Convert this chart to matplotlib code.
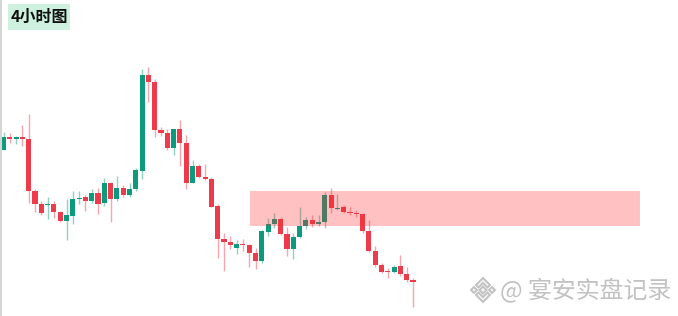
import matplotlib
matplotlib.use("Agg")
import matplotlib.pyplot as plt
from matplotlib.patches import Rectangle, Polygon, FancyBboxPatch
import numpy as np

plt.rcParams['font.family'] = ['Noto Sans CJK SC', 'DejaVu Sans']

# 4h candles (price units)
opens = [170.3, 183.3, 181.0, 183.3, 180.7, 129.3, 116.0, 115.5, 116.0, 108.0,
         99.3, 104.3, 120.7, 123.0, 119.3, 127.3, 116.7, 136.7, 120.7, 132.3,
         125.0, 130.7, 149.3, 245.3, 238.3, 190.0, 187.3, 172.3, 190.7, 176.7,
         137.3, 154.3, 143.0, 141.3, 114.0, 81.3, 78.0, 72.3, 76.3, 75.0,
         66.7, 59.0, 88.3, 96.0, 101.3, 85.7, 71.0, 83.0, 94.3, 100.3,
         95.7, 98.3, 124.7, 111.3, 113.0, 108.3, 107.3, 105.7, 89.0, 69.3,
         55.0, 48.3, 48.0, 54.0, 46.0, 39.7]
closes = [183.3, 180.7, 183.3, 180.7, 129.3, 115.7, 106.7, 116.2, 107.7, 99.3,
          104.7, 121.0, 122.0, 119.3, 127.3, 116.0, 136.7, 120.7, 132.3, 125.0,
          130.7, 150.0, 245.3, 238.3, 190.0, 187.3, 172.3, 190.7, 176.7, 137.3,
          154.3, 143.0, 141.0, 113.3, 81.3, 78.0, 75.5, 76.3, 75.0, 66.7,
          59.0, 89.0, 96.0, 101.3, 85.7, 71.0, 83.0, 94.3, 100.3, 95.7,
          98.3, 124.7, 111.7, 112.3, 107.7, 107.3, 105.7, 88.7, 69.3, 55.0,
          48.3, 47.7, 53.3, 46.0, 39.7, 38.0]
highs = [188.0, 186.7, 184.0, 194.7, 206.0, 130.7, 118.7, 122.7, 118.7, 109.0,
         121.3, 129.3, 129.3, 125.0, 131.0, 132.3, 141.7, 138.3, 144.0, 134.7,
         137.3, 152.3, 250.7, 253.3, 241.0, 193.3, 190.7, 190.7, 200.0, 185.0,
         159.7, 156.0, 156.0, 143.3, 116.0, 87.0, 84.3, 80.0, 80.7, 76.0,
         71.7, 90.0, 101.7, 106.7, 103.3, 93.3, 86.7, 113.3, 103.3, 105.0,
         105.0, 128.3, 131.7, 126.0, 115.0, 113.3, 110.0, 106.7, 100.0, 74.0,
         56.7, 51.7, 55.0, 65.0, 52.7, 42.3]
lows = [170.0, 177.3, 176.0, 174.3, 117.3, 108.0, 105.0, 101.3, 101.7, 97.7,
        80.0, 96.0, 116.0, 109.0, 116.7, 105.7, 114.3, 97.7, 119.3, 123.3,
        123.3, 129.0, 140.7, 218.3, 183.3, 184.3, 170.0, 164.7, 154.3, 130.7,
        137.0, 142.0, 140.0, 113.0, 62.0, 49.3, 70.7, 66.0, 69.0, 53.3,
        51.0, 56.7, 84.0, 91.7, 85.0, 64.0, 60.7, 81.7, 90.7, 93.3,
        94.0, 92.3, 107.3, 110.0, 106.7, 105.0, 103.3, 86.7, 68.3, 52.7,
        46.7, 42.3, 46.7, 44.0, 38.3, 13.3]

# resistance zone
zone_start, zone_end = 39.1, 101.0
zone_low, zone_high = 94.3, 129.3

up_color = '#0b9a7c'
down_color = '#ee3b4b'

fig = plt.figure(figsize=(6.78, 3.16), dpi=100)
ax = fig.add_axes([0, 0, 1, 1])
ax.set_xlim(-0.556, 107.06)
ax.set_ylim(4, 320)
ax.axis('off')

w = 0.8
for i in range(len(opens)):
    o, c, h, l = opens[i], closes[i], highs[i], lows[i]
    col = up_color if c >= o else down_color
    ax.plot([i, i], [l, h], color=col, lw=1.0, alpha=0.45, solid_capstyle='butt', zorder=2)
    bottom = min(o, c)
    height = max(abs(c - o), 1.0)
    ax.add_patch(Rectangle((i - w / 2, bottom), w, height, facecolor=col,
                           edgecolor='none', zorder=3))

ax.add_patch(Rectangle((zone_start, zone_low), zone_end - zone_start, zone_high - zone_low,
                       facecolor='#ff2a2a', alpha=0.29, edgecolor='none', zorder=4))

# left border
fig.add_artist(plt.Line2D([0.0012, 0.0012], [0, 1], color='#d6d6d6', lw=1.5))

# title badge
fig.add_artist(FancyBboxPatch((8 / 678, 1 - 29.5 / 316), 62 / 678, 25.5 / 316,
                              boxstyle='square,pad=0', facecolor='#cdf1de',
                              edgecolor='none', transform=fig.transFigure))
fig.text(39 / 678, 1 - 17 / 316, '4小时图', ha='center', va='center',
         fontsize=11.5, fontweight='bold', color='#111111')

# watermark
wm = '#c2c2c2'
fig.text(500 / 678, 1 - 291 / 316, '@ 宴安实盘记录', ha='left', va='center',
         fontsize=17.2, color=wm)


def shape(pts):
    pts = [(x / 678, 1 - y / 316) for x, y in pts]
    fig.add_artist(Polygon(pts, closed=True, facecolor='#f4f4f4', edgecolor=wm, lw=1.4,
                           transform=fig.transFigure))


cx, cy = 483, 290
r = 3.5
shape([(cx, cy - r), (cx + r, cy), (cx, cy + r), (cx - r, cy)])
shape([(cx - 9, cy - 3), (cx - 6, cy), (cx - 9, cy + 3), (cx - 12, cy)])
shape([(cx + 9, cy - 3), (cx + 12, cy), (cx + 9, cy + 3), (cx + 6, cy)])
# top and bottom chevrons
shape([(cx, cy - 12), (cx + 7, cy - 5), (cx + 4.5, cy - 2.5), (cx, cy - 7),
       (cx - 4.5, cy - 2.5), (cx - 7, cy - 5)])
shape([(cx, cy + 12), (cx + 7, cy + 5), (cx + 4.5, cy + 2.5), (cx, cy + 7),
       (cx - 4.5, cy + 2.5), (cx - 7, cy + 5)])

fig.savefig('out.png', dpi=100, facecolor='white')
